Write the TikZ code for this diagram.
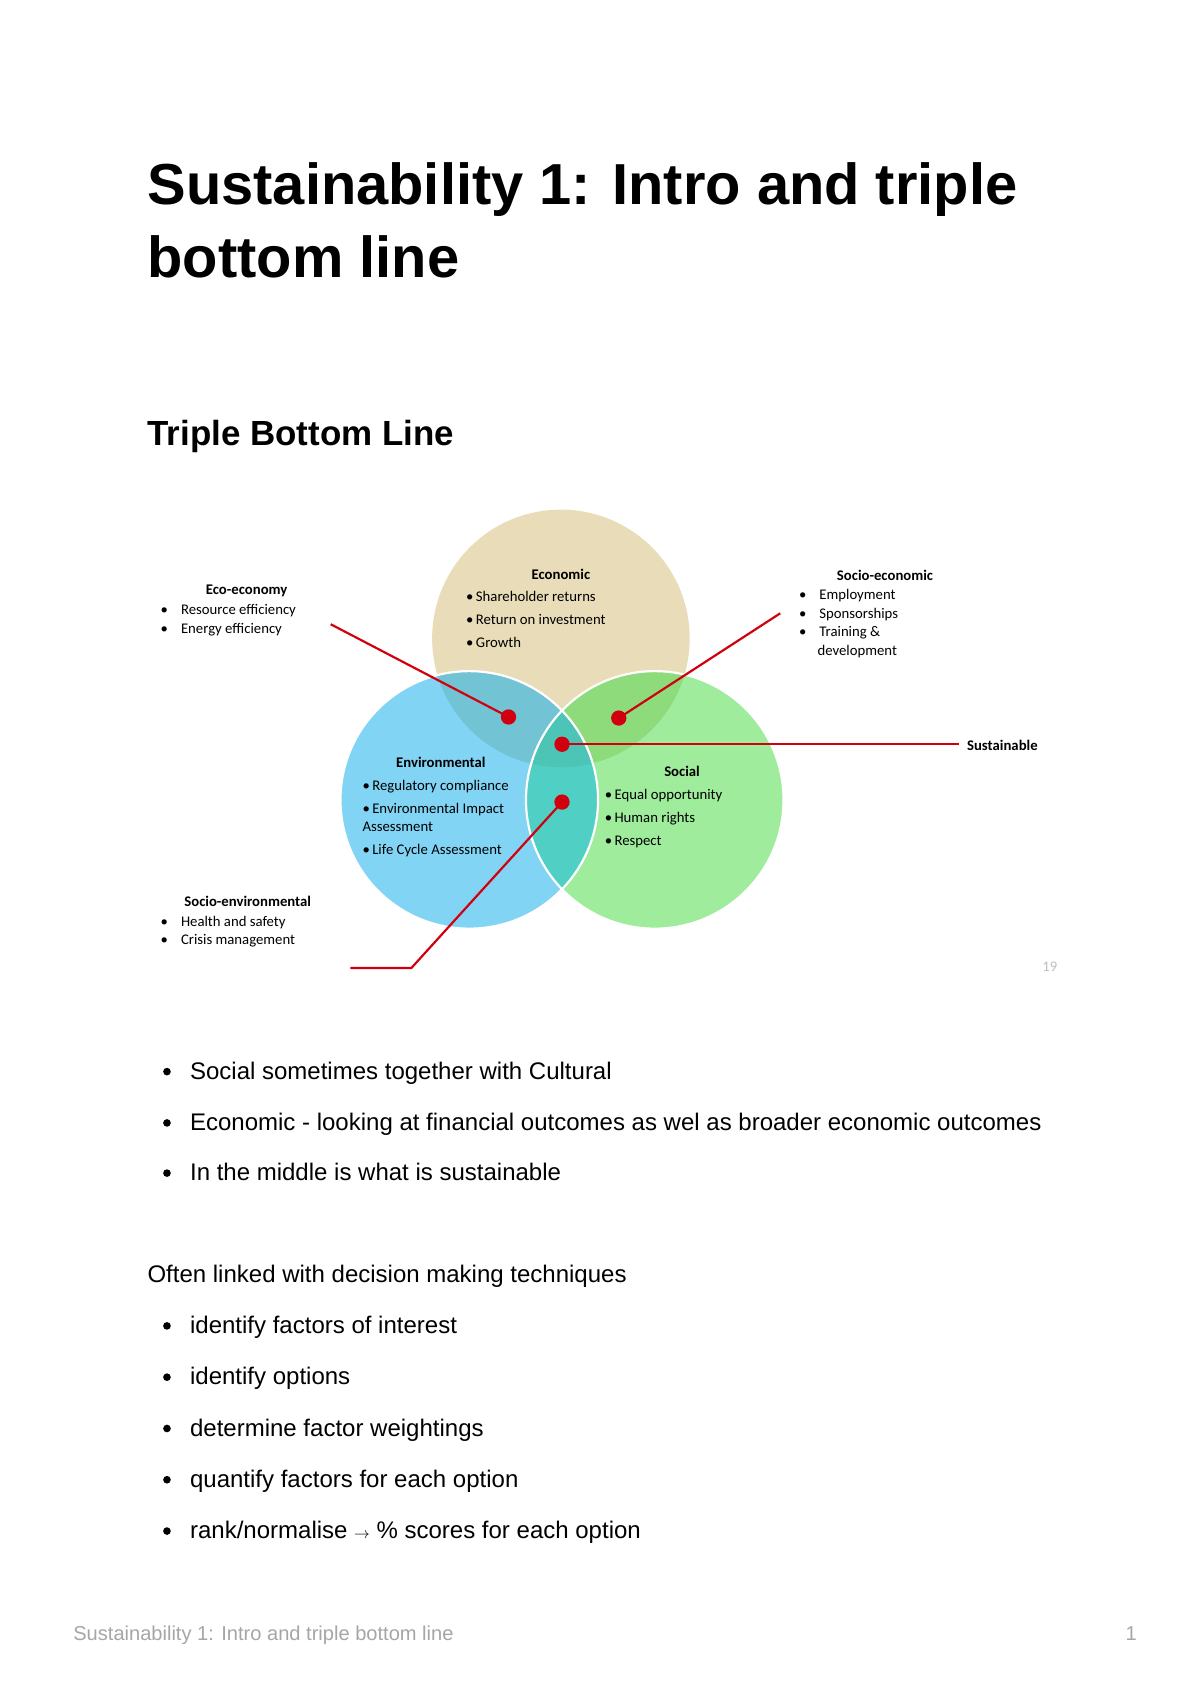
\documentclass[tikz,border=0pt]{standalone}
\usepackage{fontspec}
\setmainfont{Liberation Sans}
\newfontfamily\diag{Carlito}
\definecolor{ecoC}{HTML}{E8DDB8}
\definecolor{envC}{HTML}{82D4F4}
\definecolor{socC}{HTML}{9EEC9C}
\definecolor{eeC}{HTML}{72C3D4}
\definecolor{esC}{HTML}{8EDB7C}
\definecolor{vsC}{HTML}{50CFC5}
\definecolor{allC}{HTML}{4CC4B6}
\definecolor{redC}{HTML}{D0000F}
\begin{document}
\begin{tikzpicture}[x=1pt,y=-1pt,
  dot/.style={circle,fill=redC,inner sep=0pt,minimum size=14pt},
  red line/.style={draw=redC,line width=2pt},
  lab/.style={font=\diag\fontsize{13.5}{16}\selectfont,align=left,anchor=north west,inner sep=0pt},
  body/.style={anchor=base west,inner sep=0pt,font=\fontsize{22}{26}\selectfont},
  bul/.style={circle,fill=black,inner sep=0pt,minimum size=7pt}]
\useasboundingbox (0,0) rectangle (1100,1556);
\fill[white] (0,0) rectangle (1100,1556);
% title
\node[anchor=base west,inner sep=0pt,font=\bfseries\fontsize{53}{67}\selectfont] (title) at (135,187) {Sustainability 1: Intro and triple};
\node[anchor=base west,inner sep=0pt,font=\bfseries\fontsize{53}{67}\selectfont] (title2) at (135,254) {bottom line};
\node[anchor=base west,inner sep=0pt,font=\bfseries\fontsize{32}{36}\selectfont] (h2) at (135,408) {Triple Bottom Line};
% circles
\fill[ecoC] (514,585) circle (118);
\fill[envC] (430,733) circle (118);
\fill[socC] (600,733) circle (118);
\begin{scope}\clip (514,585) circle (118); \fill[eeC] (430,733) circle (118); \fill[esC] (600,733) circle (118);
  \clip (430,733) circle (118); \fill[allC] (600,733) circle (118); \end{scope}
\begin{scope}\clip (430,733) circle (118); \clip (600,733) circle (118);
  \fill[vsC] (300,600) rectangle (800,900);
  \clip (514,585) circle (118); \fill[allC] (300,400) rectangle (800,900); \end{scope}
\draw[white,line width=2pt] (430,733) circle (118);
\draw[white,line width=2pt] (600,733) circle (118);
% circle labels
\node[lab,anchor=north] (eco) at (514,521) {\textbf{Economic}};
\node[lab] (ecol) at (427,542) {\textbullet\,Shareholder returns\\[5pt]\textbullet\,Return on investment\\[5pt]\textbullet\,Growth};
\node[lab,anchor=north] (env) at (404,694) {\textbf{Environmental}};
\node[lab] (envl) at (332,715) {\textbullet\,Regulatory compliance\\[5pt]\textbullet\,Environmental Impact\\Assessment\\[5pt]\textbullet\,Life Cycle Assessment};
\node[lab,anchor=north] (soc) at (625,702) {\textbf{Social}};
\node[lab] (socl) at (554,723) {\textbullet\,Equal opportunity\\[5pt]\textbullet\,Human rights\\[5pt]\textbullet\,Respect};
% outer labels
\node[lab,anchor=north] (ecoe) at (226,536) {\textbf{Eco-economy}};
\node[lab] (ecoel) at (147,554) {\textbullet\hspace{12pt}Resource efficiency\\[1pt]\textbullet\hspace{12pt}Energy efficiency};
\node[lab,anchor=north] (soce) at (811,522) {\textbf{Socio-economic}};
\node[lab] (socel) at (732,540) {\textbullet\hspace{12pt}Employment\\[1pt]\textbullet\hspace{12pt}Sponsorships\\[1pt]\textbullet\hspace{12pt}Training \&\\[1pt]\hspace{17pt}development};
\node[lab,anchor=north] (socv) at (227,821) {\textbf{Socio-environmental}};
\node[lab] (socvl) at (147,839) {\textbullet\hspace{12pt}Health and safety\\[1pt]\textbullet\hspace{12pt}Crisis management};
\node[lab,anchor=west] (sust) at (886,683) {\textbf{Sustainable}};
\node[lab,anchor=center,text=gray!50] (nineteen) at (962,886) {19};
% dots and lines
\node[dot] (d1) at (466,657) {};
\node[dot] (d2) at (567,658) {};
\node[dot] (d3) at (515,682) {};
\node[dot] (d4) at (515,735) {};
\coordinate (c1) at (303,572);
\coordinate (c2) at (715,562);
\coordinate (c3) at (879,682);
\coordinate (c4) at (377,887);
\coordinate (c5) at (321,887);
\draw[red line] (c1) -- (d1.center);
\draw[red line] (c2) -- (d2.center);
\draw[red line] (d3.center) -- (c3);
\draw[red line] (d4.center) -- (c4) -- (c5);
% body text
\foreach \y/\t [count=\i] in {989/Social sometimes together with Cultural,
  1036/Economic - looking at financial outcomes as wel as broader economic outcomes,
  1082/In the middle is what is sustainable}{
  \node[bul] (b\i) at (153,\y-7) {};
  \node[body] (t\i) at (174,\y) {\t};
}
\node[body] (often) at (135,1175) {Often linked with decision making techniques};
\foreach \y/\t [count=\i] in {1222/identify factors of interest,
  1269/identify options,
  1316/determine factor weightings,
  1363/quantify factors for each option}{
  \node[bul] (c\i) at (153,\y-7) {};
  \node[body] (u\i) at (174,\y) {\t};
}
\node[bul] (c5b) at (153,1403) {};
\node[body] (u5) at (174,1410) {rank/normalise {\fontsize{14}{14}\selectfont$\rightarrow$} \% scores for each option};
% footer
\node[anchor=base west,inner sep=0pt,font=\fontsize{18.4}{20}\selectfont,text=gray!70] (foot) at (67,1503) {Sustainability 1: Intro and triple bottom line};
\node[anchor=base east,inner sep=0pt,font=\fontsize{18.4}{20}\selectfont,text=gray!70] (pg) at (1042,1503) {1};
\end{tikzpicture}
\end{document}
